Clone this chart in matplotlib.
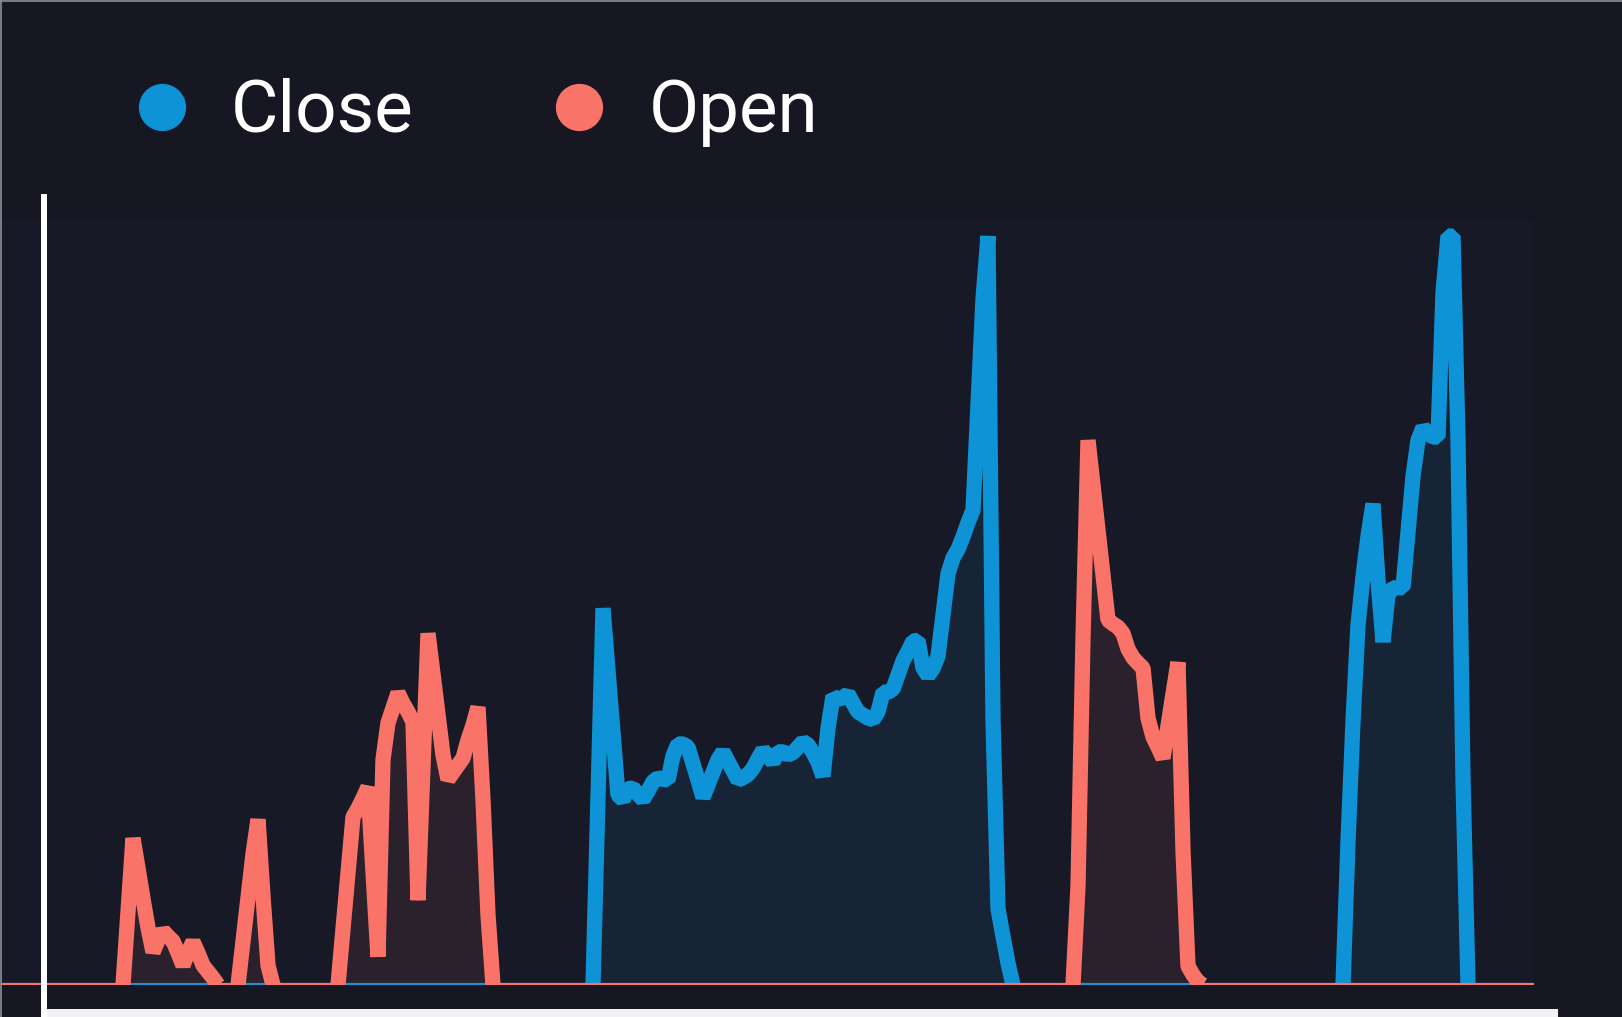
import numpy as np
import matplotlib.pyplot as plt
from matplotlib.lines import Line2D
from matplotlib.patches import Rectangle

# data: one value per step, zero outside the active runs
n_points = 307

close_runs = [
    (119, [23.9, 48.0, 40.1, 32.1, 24.2, 23.6, 25.0, 25.1, 24.3, 23.6, 24.7, 25.9, 26.4, 26.2,
           26.1, 29.2, 30.7, 30.7, 30.3, 28.2, 26.1, 23.9, 25.5, 27.1, 28.7, 29.7, 28.5, 27.3,
           26.1, 26.4, 26.8, 27.6, 28.8, 29.9, 29.2, 28.4, 29.7, 29.7, 29.3, 29.6, 30.3, 31.0,
           30.6, 29.6, 28.4, 26.6, 32.7, 36.8, 36.4, 36.6, 37.1, 35.9, 34.8, 34.4, 34.0, 33.8,
           34.8, 37.3, 37.3, 37.7, 39.5, 41.3, 42.5, 43.8, 43.9, 40.4, 39.4, 40.3, 41.9, 47.1,
           52.4, 54.4, 55.5, 57.1, 58.9, 60.5, 73.9, 87.4, 95.4, 33.8, 9.7, 6.2, 2.8]),
    (269, [18.3, 33.6, 45.9, 52.0, 57.2, 61.3, 51.5, 43.7, 49.7, 50.6, 50.6, 50.6, 57.7, 64.8,
           69.4, 71.0, 70.3, 69.8, 69.8, 88.2, 95.4, 95.4, 69.4, 26.1]),
]

open_runs = [
    (25, [9.3, 18.7, 14.9, 11.0, 7.3, 4.2, 5.7, 6.9, 6.2, 5.6, 4.1, 2.5, 4.2, 5.5, 4.1, 2.5,
          1.7, 0.9]),
    (48, [5.6, 11.1, 16.7, 21.1, 11.3, 2.5]),
    (68, [7.1, 14.3, 21.4, 22.5, 23.8, 25.2, 14.4, 3.6, 28.7, 33.4, 35.3, 37.2, 35.9, 34.8,
          33.5, 10.8, 27.9, 44.8, 39.6, 34.5, 29.3, 26.2, 27.1, 28.0, 28.9, 31.2, 33.1, 35.4,
          23.6, 8.9]),
    (215, [12.6, 44.2, 69.4, 63.7, 58.0, 52.2, 46.5, 46.0, 45.6, 44.8, 42.8, 41.7, 41.0, 40.4,
           34.0, 31.6, 30.3, 28.9, 33.0, 37.1, 41.1, 17.1, 2.4, 1.3, 0.4]),
]

series_names = ['Close', 'Open']


def build(runs):
    vals = np.zeros(n_points)
    for start, chunk in runs:
        vals[start:start + len(chunk)] = chunk
    return vals


def active_only(vals):
    # keep the runs (and the zero on each side), hide the flat zero stretches
    nz = vals > 0
    keep = nz | np.roll(nz, 1) | np.roll(nz, -1)
    return np.where(keep, vals, np.nan)


close_vals = build(close_runs)
open_vals = build(open_runs)
x = np.arange(n_points)

BG = '#161723'
PLOT_BG = '#171926'
BLUE = '#0d93d6'
SALMON = '#fa7369'

fig = plt.figure(figsize=(16.22, 10.17), dpi=100, facecolor=BG)
ax = fig.add_axes([0, 32 / 1017, 1534 / 1622, 765 / 1017])
ax.set_facecolor(PLOT_BG)

for vals, color, z in [(close_vals, BLUE, 1), (open_vals, SALMON, 4)]:
    ax.fill_between(x, 0, vals, color=color, alpha=0.09, lw=0, zorder=z)
    ax.plot(x, active_only(vals), color=color, lw=11, solid_joinstyle='bevel',
            solid_capstyle='butt', zorder=z + 1)
    ax.plot(x, vals, color=color, lw=3, solid_joinstyle='bevel', zorder=z + 2)

ax.set_xlim(-0.6, 306.2)
ax.set_ylim(0, 97.45)
ax.set_xticks([])
ax.set_yticks([])
for s in ax.spines.values():
    s.set_visible(False)

# white cursor line and bottom strip
fig.add_artist(Line2D([44 / 1622, 44 / 1622], [1 - 197 / 1017, 0], color='white', lw=4.3,
                      transform=fig.transFigure))
fig.add_artist(Rectangle((44 / 1622, 0), 1514 / 1622, 8 / 1017, color='#f2f2f4', lw=0,
                         transform=fig.transFigure))
fig.add_artist(Line2D([0, 1], [0.9995, 0.9995], color='#8c8f9a', lw=1.2,
                      transform=fig.transFigure))
fig.add_artist(Line2D([0.0006, 0.0006], [0, 1], color='#8c8f9a', lw=1.2,
                      transform=fig.transFigure))

# legend
legend_items = [(series_names[0], BLUE, 162, 231), (series_names[1], SALMON, 579, 649)]
for label, color, dot_x, text_x in legend_items:
    fig.add_artist(Line2D([dot_x / 1622], [1 - 107 / 1017], marker='o', ms=33, color=color,
                          lw=0, transform=fig.transFigure))
    fig.text(text_x / 1622, 1 - 132 / 1017, label, color='white', fontsize=52.5,
             family=['Roboto', 'DejaVu Sans'], ha='left', va='baseline')

fig.savefig('out.png', dpi=100, facecolor=BG)
